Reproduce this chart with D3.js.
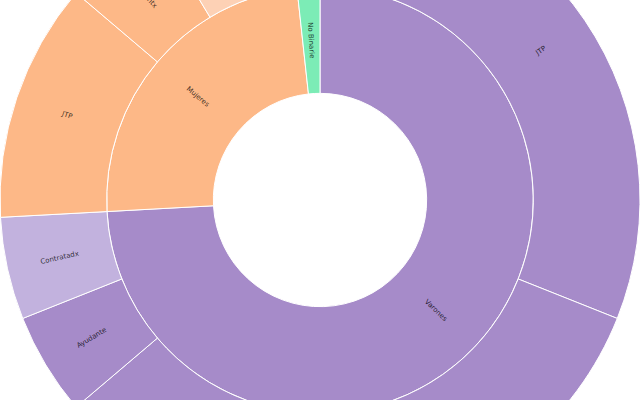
<!DOCTYPE html>
<html>
<head>
<meta charset="utf-8">
<script src="https://cdn.jsdelivr.net/npm/d3@7"></script>
<style>
  body { margin: 0; background: #fff; }
  svg { display: block; }
</style>
</head>
<body>
<div id="chart"></div>
<script>
// Datos: géneros y cargos
const generos = ["Varones", "Mujeres", "No Binarie"];
const coloresGenero = ["#a68bc9", "#fdb887", "#7cecb6"];
const coloresClaros = ["#c2b2de", "#fdd1b5", "#b5f5d6"];

const varonesCargos = ["JTP", "Adjuntx", "Ayudante", "Contratadx"];
const varonesValores = [18, 19, 3, 3];
const mujeresCargos = ["JTP", "Adjuntx", "Contratadx", "Ayudante"];
const mujeresValores = [7, 3, 2, 2];
const noBinarieCargos = ["JTP"];
const noBinarieValores = [1];

const cargosPorGenero = [varonesCargos, mujeresCargos, noBinarieCargos];
const valoresPorGenero = [varonesValores, mujeresValores, noBinarieValores];

const width = 640, height = 400;
const radius = 320;

// armar jerarquía
const root = d3.hierarchy({
    name: "root",
    children: generos.map((g, i) => ({
        name: g,
        color: coloresGenero[i],
        children: cargosPorGenero[i].map((c, j) => ({
            name: c,
            value: valoresPorGenero[i][j],
            color: c === "Contratadx" ? coloresClaros[i] : coloresGenero[i]
        }))
    }))
}).sum(d => d.value || 0);

d3.partition().size([2 * Math.PI, root.height + 1])(root);

const r = d3.scaleLinear().domain([0, root.height + 1]).range([0, radius]);

const arc = d3.arc()
    .startAngle(d => d.x0)
    .endAngle(d => d.x1)
    .innerRadius(d => r(d.y0))
    .outerRadius(d => r(d.y1));

const svg = d3.select("#chart")
    .append("svg")
    .attr("width", width)
    .attr("height", height);

const g = svg.append("g")
    .attr("transform", `translate(${width / 2},${height / 2})`);

const nodos = root.descendants().filter(d => d.depth > 0);

g.selectAll("path")
    .data(nodos)
    .enter()
    .append("path")
    .attr("d", arc)
    .attr("fill", d => d.data.color)
    .attr("stroke", "#fff")
    .attr("stroke-width", 1);

// etiquetas radiales
g.selectAll("text")
    .data(nodos)
    .enter()
    .append("text")
    .attr("transform", d => {
        const a = (d.x0 + d.x1) / 2 * 180 / Math.PI;
        const rr = r((d.y0 + d.y1) / 2);
        const px = rr * Math.sin(a * Math.PI / 180);
        const py = -rr * Math.cos(a * Math.PI / 180);
        const rot = a < 180 ? a - 90 : a - 270;
        return `translate(${px},${py}) rotate(${rot})`;
    })
    .attr("text-anchor", "middle")
    .attr("dy", "0.35em")
    .style("font-family", "DejaVu Sans, sans-serif")
    .style("font-size", "7px")
    .style("fill", "#000")
    .style("fill-opacity", 0.78)
    .text(d => d.data.name);
</script>
</body>
</html>
